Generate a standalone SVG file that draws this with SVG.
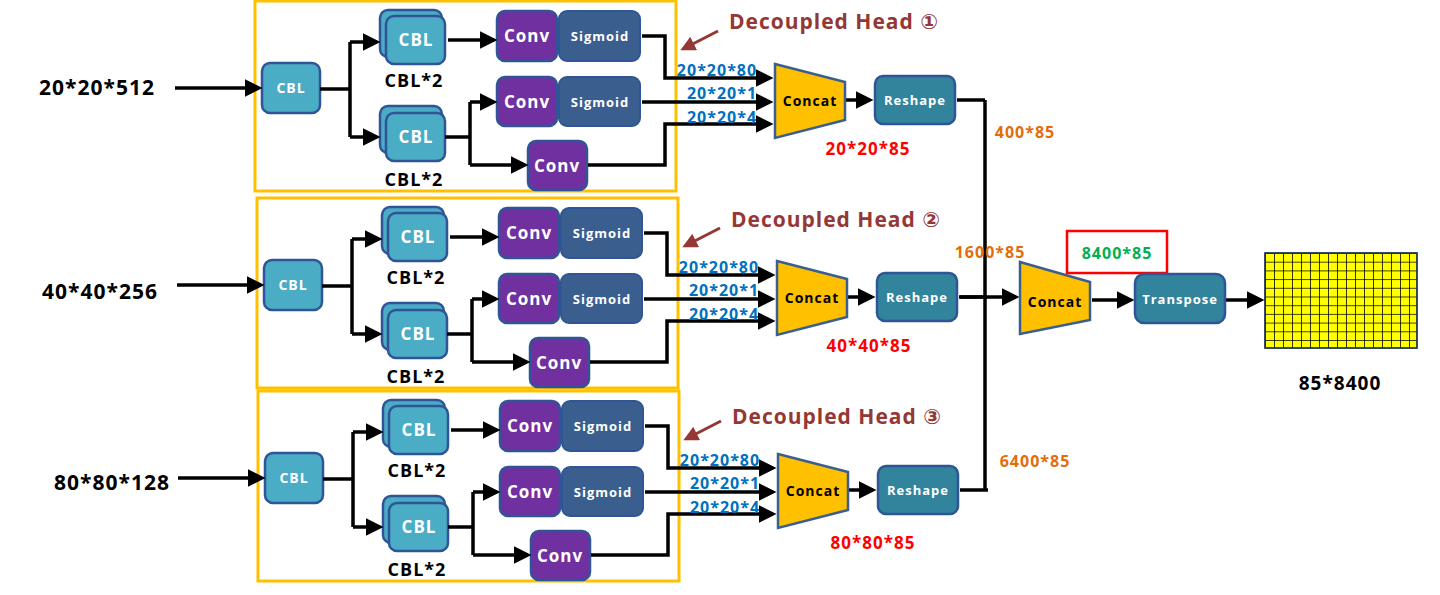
<svg xmlns="http://www.w3.org/2000/svg" width="1440" height="595" viewBox="0 0 1440 595">
<defs>
<marker id="ah" markerWidth="5" markerHeight="5" refX="4" refY="2.5" orient="auto" markerUnits="strokeWidth"><path d="M0,0 L5,2.5 L0,5 z" fill="#000"/></marker>
<marker id="bh" markerWidth="5" markerHeight="5" refX="4" refY="2.5" orient="auto" markerUnits="strokeWidth"><path d="M0,0 L5,2.5 L0,5 z" fill="#953735"/></marker>
<pattern id="grid" x="1265" y="253" width="9" height="8.7" patternUnits="userSpaceOnUse"><rect width="9" height="8.7" fill="#ffff00"/><path d="M0,0 V8.7 M0,0 H9" stroke="#000" stroke-width="1.6"/></pattern>
<g id="blk">
<rect x="255" y="1" width="421" height="190" fill="none" stroke="#ffc000" stroke-width="3"/>
<rect class="cbl" x="262" y="63" width="58" height="50" rx="8"/><text class="w" x="291" y="93" font-size="14">CBL</text>
<rect class="cbl" x="380" y="10" width="62" height="47" rx="8"/><rect class="cbl" x="386" y="16" width="59" height="48" rx="8"/><text class="w" x="416" y="46" font-size="17">CBL</text>
<text class="k" x="414" y="87" font-size="18">CBL*2</text>
<rect class="cbl" x="380" y="106" width="62" height="47" rx="8"/><rect class="cbl" x="386" y="113" width="59" height="48" rx="8"/><text class="w" x="416" y="143" font-size="17">CBL</text>
<text class="k" x="414" y="186" font-size="18">CBL*2</text>
<rect class="conv" x="497" y="11" width="60" height="50" rx="8"/><text class="w" x="527" y="42" font-size="17">Conv</text>
<rect class="sig" x="559" y="11" width="81" height="50" rx="8"/><text class="w" x="600" y="41" font-size="13">Sigmoid</text>
<rect class="conv" x="497" y="77" width="60" height="49" rx="8"/><text class="w" x="527" y="108" font-size="17">Conv</text>
<rect class="sig" x="559" y="77" width="81" height="49" rx="8"/><text class="w" x="600" y="107" font-size="13">Sigmoid</text>
<rect class="conv" x="528" y="141" width="59" height="49" rx="8"/><text class="w" x="557" y="172" font-size="17">Conv</text>
<g class="ln">
<path d="M175,88 H259" marker-end="url(#ah)"/>
<path d="M320,89 H350 M350,42 V137"/>
<path d="M350,42 H377" marker-end="url(#ah)"/>
<path d="M350,137 H377" marker-end="url(#ah)"/>
<path d="M448,40 H494" marker-end="url(#ah)"/>
<path d="M445,137 H470 M470,102 V165"/>
<path d="M470,102 H494" marker-end="url(#ah)"/>
<path d="M470,165 H525" marker-end="url(#ah)"/>
<path d="M642,36 H665 V78 H770" marker-end="url(#ah)"/>
<path d="M642,102 H770" marker-end="url(#ah)"/>
<path d="M588,165 H665 V124 H770" marker-end="url(#ah)"/>
<path d="M846,100 H870" marker-end="url(#ah)"/>
<path d="M957,100 H985"/>
</g>
<path d="M775,64 L845,82 L845,120 L775,138 Z" fill="#ffc000" stroke="#3a5f8f" stroke-width="2.5"/>
<text class="k" x="810" y="106" font-size="14">Concat</text>
<rect x="875" y="76" width="80" height="48" rx="8" fill="#31849b" stroke="#2f5597" stroke-width="2.5"/><text class="w" x="915" y="105" font-size="13">Reshape</text>
<text class="b" x="717" y="76">20*20*80</text>
<text class="b" x="722" y="99">20*20*1</text>
<text class="b" x="722" y="123">20*20*4</text>
<path d="M718,31 L683,49" stroke="#953735" stroke-width="3" fill="none" marker-end="url(#bh)"/>
</g>
</defs>
<style>
text{font-family:"Open Sans","DejaVu Sans",sans-serif;font-weight:bold;text-anchor:middle}
.w{fill:#fff;letter-spacing:1px}
.k{fill:#000;letter-spacing:1px}
.b{fill:#0070c0;font-size:16px;letter-spacing:1px}
.r{fill:#ff0000;font-size:17px;letter-spacing:1px}
.o{fill:#e46c0a;font-size:16px;letter-spacing:1px}
.h{fill:#953735;font-size:21px;letter-spacing:1px}
.in{fill:#000;font-size:21px;letter-spacing:1px}
.cbl{fill:#4bacc6;stroke:#2f5597;stroke-width:2.5}
.conv{fill:#7030a0;stroke:#2f5597;stroke-width:2.5}
.sig{fill:#3a5f8f;stroke:#2f5597;stroke-width:2}
.ln path{fill:none;stroke:#000;stroke-width:3.5}
</style>
<g id="head1"><use href="#blk"/>
<text class="in" x="97" y="95">20*20*512</text><text class="r" x="868" y="155">20*20*85</text><text class="h" x="834" y="29">Decoupled Head ①</text></g>
<g id="head2"><use href="#blk" transform="translate(2,197)"/>
<text class="in" x="100" y="299">40*40*256</text><text class="r" x="869" y="352">40*40*85</text><text class="h" x="836" y="227">Decoupled Head ②</text></g>
<g id="head3"><use href="#blk" transform="translate(3,390)"/>
<text class="in" x="112" y="490">80*80*128</text><text class="r" x="873" y="549">80*80*85</text><text class="h" x="837" y="424">Decoupled Head ③</text></g>
<g id="connectors" class="ln">
<path d="M985,100 V490"/>
<path d="M960,297 H1016" marker-end="url(#ah)"/>
<path d="M1092,300 H1131" marker-end="url(#ah)"/>
<path d="M1226,300 H1261" marker-end="url(#ah)"/>
</g>
<text class="o" x="1025" y="138">400*85</text>
<text class="o" x="990" y="258">1600*85</text>
<text class="o" x="1035" y="467">6400*85</text>
<g id="concat">
<path d="M1020,262 L1090,282 L1090,320 L1020,334 Z" fill="#ffc000" stroke="#3a5f8f" stroke-width="2.5"/>
<text class="k" x="1055" y="307" font-size="14">Concat</text></g>
<g id="label8400"><rect x="1067" y="231" width="100" height="42" fill="#fff" stroke="#ff0000" stroke-width="2.5"/><text x="1117" y="259" font-size="16" fill="#00b050" letter-spacing="1">8400*85</text></g>
<g id="transpose"><rect x="1135" y="274" width="90" height="49" rx="9" fill="#31849b" stroke="#2f5597" stroke-width="2.5"/><text class="w" x="1180" y="304" font-size="13">Transpose</text></g>
<g id="output"><rect x="1265" y="253" width="152" height="95" fill="url(#grid)" stroke="#000" stroke-width="1.5"/><rect x="1265" y="253" width="152" height="95" fill="none" stroke="#2f5597" stroke-width="1"/>
<text class="k" x="1340" y="390" font-size="19">85*8400</text></g>
</svg>
